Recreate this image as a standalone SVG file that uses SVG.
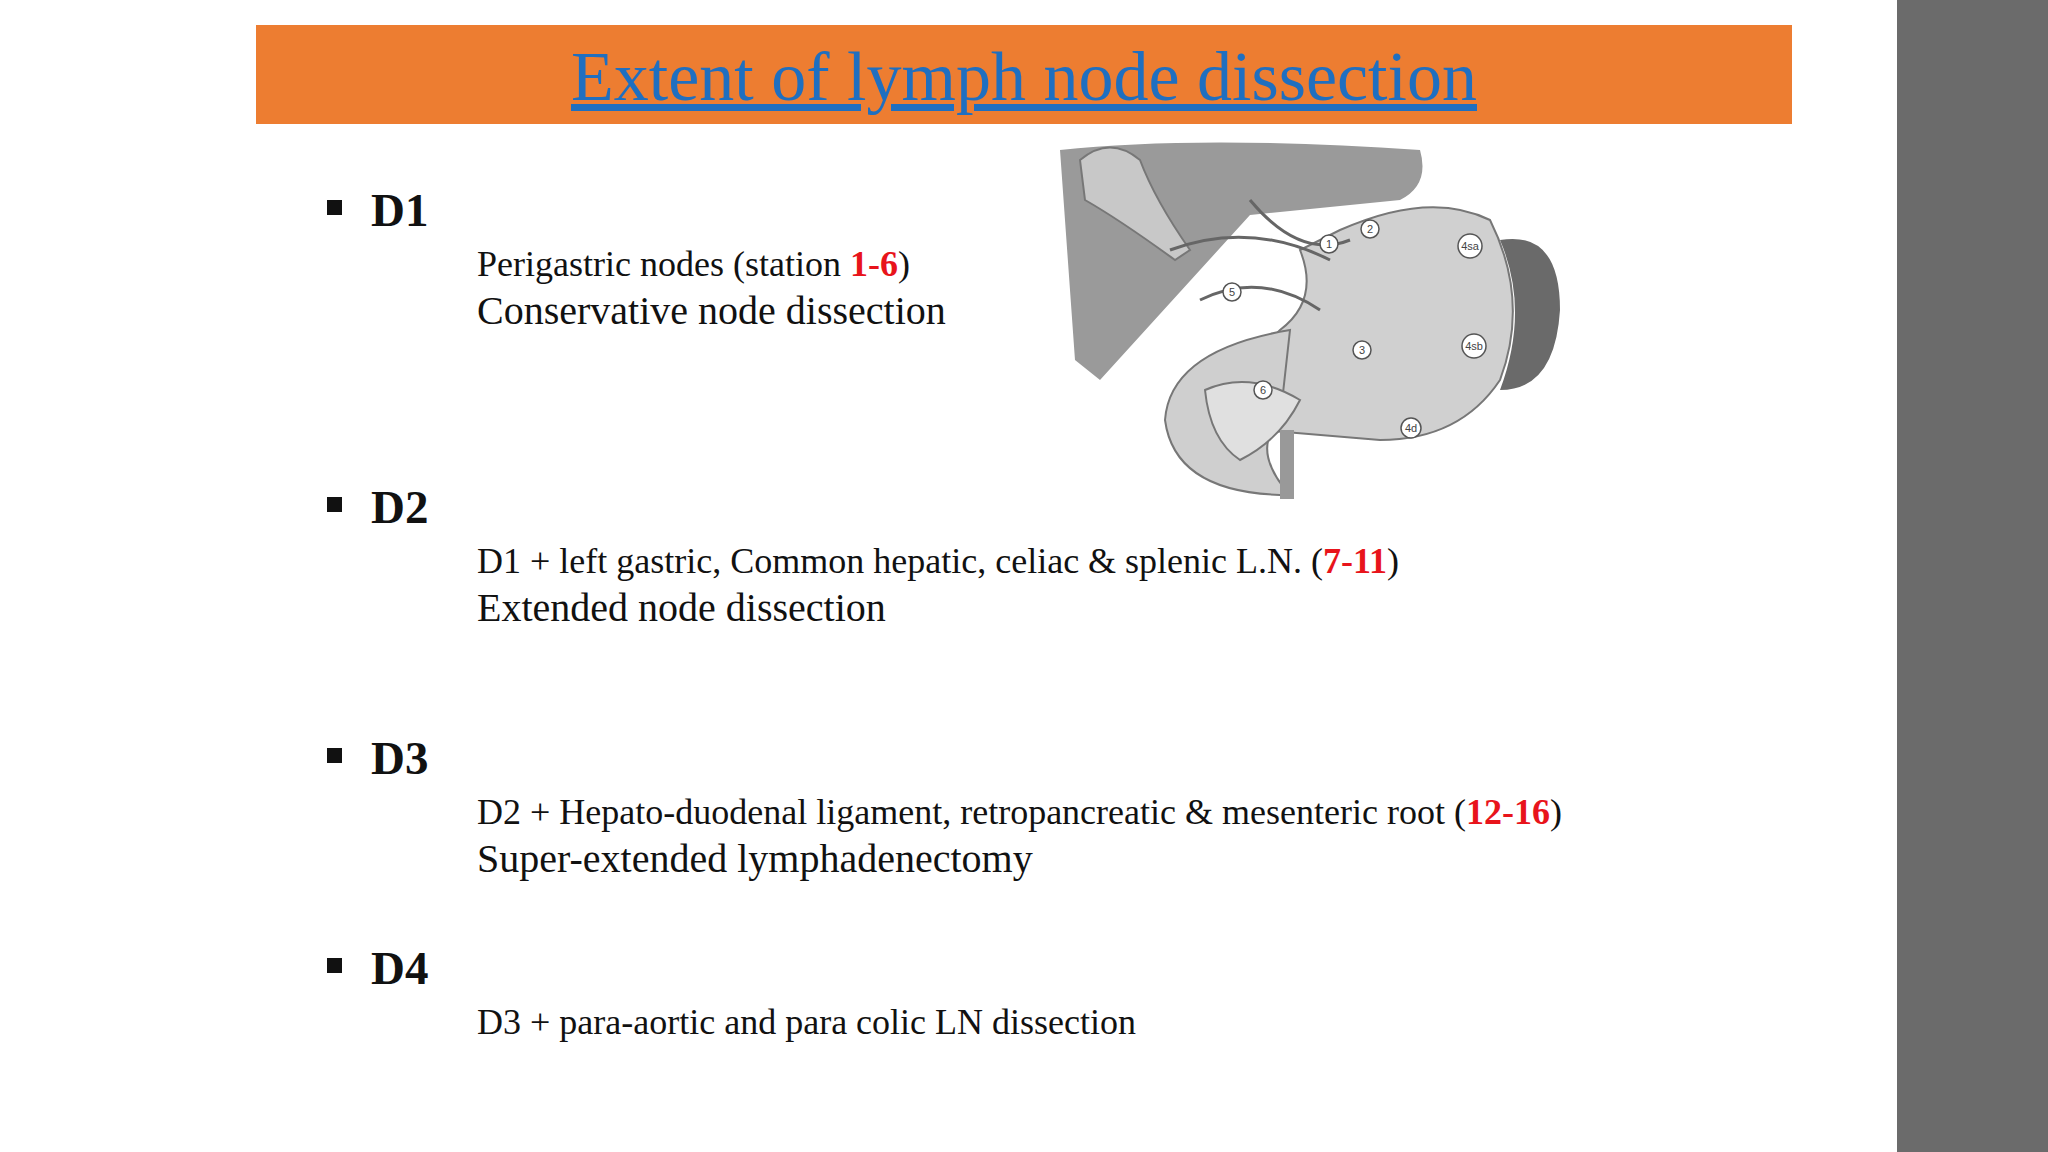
<svg xmlns="http://www.w3.org/2000/svg" width="2048" height="1152" viewBox="0 0 2048 1152">
<style>
.t{font-family:"Liberation Serif","Times New Roman",serif;fill:#111}
.h{font-size:47px;font-weight:bold}
.s{font-size:36px}
.l{font-size:40px}
.r{fill:#e8141b;font-weight:bold}
.n{fill:#fff;stroke:#555;stroke-width:1.5}
.nt{font-family:"Liberation Sans",Arial,sans-serif;font-size:11px;fill:#444;text-anchor:middle}
.org{stroke:#777;stroke-width:2}
</style>
<rect width="2048" height="1152" fill="#fff"/>
<rect x="1897" y="0" width="151" height="1152" fill="#6b6b6b"/>
<g id="title">
<rect x="256" y="25" width="1536" height="99" fill="#ed7d31"/>
<text x="1024" y="100" text-anchor="middle" font-family="Liberation Serif,serif" font-size="70" fill="#1f6fc0" text-decoration="underline">Extent of lymph node dissection</text>
</g>
<g id="illustration">
<path d="M1060 150 Q1200 135 1420 150 Q1430 185 1400 200 L1250 215 L1100 380 L1075 360 Z" fill="#9a9a9a"/>
<path d="M1080 160 Q1110 135 1140 160 Q1155 200 1190 250 L1175 260 Q1120 220 1085 200 Z" fill="#c8c8c8" class="org"/>
<path d="M1340 230 Q1430 190 1490 220 Q1530 300 1500 380 Q1460 440 1380 440 L1260 430 Q1230 380 1280 330 Q1320 300 1300 250 Z" fill="#d0d0d0" class="org"/>
<path d="M1500 240 Q1560 230 1560 310 Q1555 390 1500 390 Q1530 310 1500 240 Z" fill="#6a6a6a"/>
<path d="M1290 330 Q1170 350 1165 420 Q1175 495 1290 495 Q1250 450 1280 420 Z" fill="#cfcfcf" class="org"/>
<path d="M1205 390 Q1250 370 1300 400 Q1280 440 1240 460 Q1210 440 1205 390 Z" fill="#e0e0e0" class="org"/>
<rect x="1280" y="430" width="14" height="69" fill="#999"/>
<path d="M1170 250 Q1250 220 1330 260 M1200 300 Q1260 270 1320 310 M1250 200 Q1300 260 1350 240" fill="none" stroke="#666" stroke-width="3"/>
<g><circle class="n" cx="1329" cy="244" r="9"/><text class="nt" x="1329" y="248">1</text></g>
<g><circle class="n" cx="1370" cy="229" r="9"/><text class="nt" x="1370" y="233">2</text></g>
<g><circle class="n" cx="1362" cy="350" r="9"/><text class="nt" x="1362" y="354">3</text></g>
<g><circle class="n" cx="1470" cy="246" r="12"/><text class="nt" x="1470" y="250">4sa</text></g>
<g><circle class="n" cx="1474" cy="346" r="12"/><text class="nt" x="1474" y="350">4sb</text></g>
<g><circle class="n" cx="1411" cy="428" r="10"/><text class="nt" x="1411" y="432">4d</text></g>
<g><circle class="n" cx="1232" cy="292" r="9"/><text class="nt" x="1232" y="296">5</text></g>
<g><circle class="n" cx="1263" cy="390" r="9"/><text class="nt" x="1263" y="394">6</text></g>
</g>
<g id="d1">
<rect x="327" y="200" width="15" height="15" fill="#111"/>
<text class="t h" x="371" y="226">D1</text>
<text class="t s" x="477" y="276">Perigastric nodes (station <tspan class="r">1-6</tspan>)</text>
<text class="t l" x="477" y="324">Conservative node dissection</text>
</g>
<g id="d2">
<rect x="327" y="497" width="15" height="15" fill="#111"/>
<text class="t h" x="371" y="523">D2</text>
<text class="t s" x="477" y="573">D1 + left gastric, Common hepatic, celiac &amp; splenic L.N. (<tspan class="r">7-11</tspan>)</text>
<text class="t l" x="477" y="621">Extended node dissection</text>
</g>
<g id="d3">
<rect x="327" y="748" width="15" height="15" fill="#111"/>
<text class="t h" x="371" y="774">D3</text>
<text class="t s" x="477" y="824">D2 + Hepato-duodenal ligament, retropancreatic &amp; mesenteric root (<tspan class="r">12-16</tspan>)</text>
<text class="t l" x="477" y="872">Super-extended lymphadenectomy</text>
</g>
<g id="d4">
<rect x="327" y="958" width="15" height="15" fill="#111"/>
<text class="t h" x="371" y="984">D4</text>
<text class="t s" x="477" y="1034">D3 + para-aortic and para colic LN dissection</text>
</g>
</svg>
